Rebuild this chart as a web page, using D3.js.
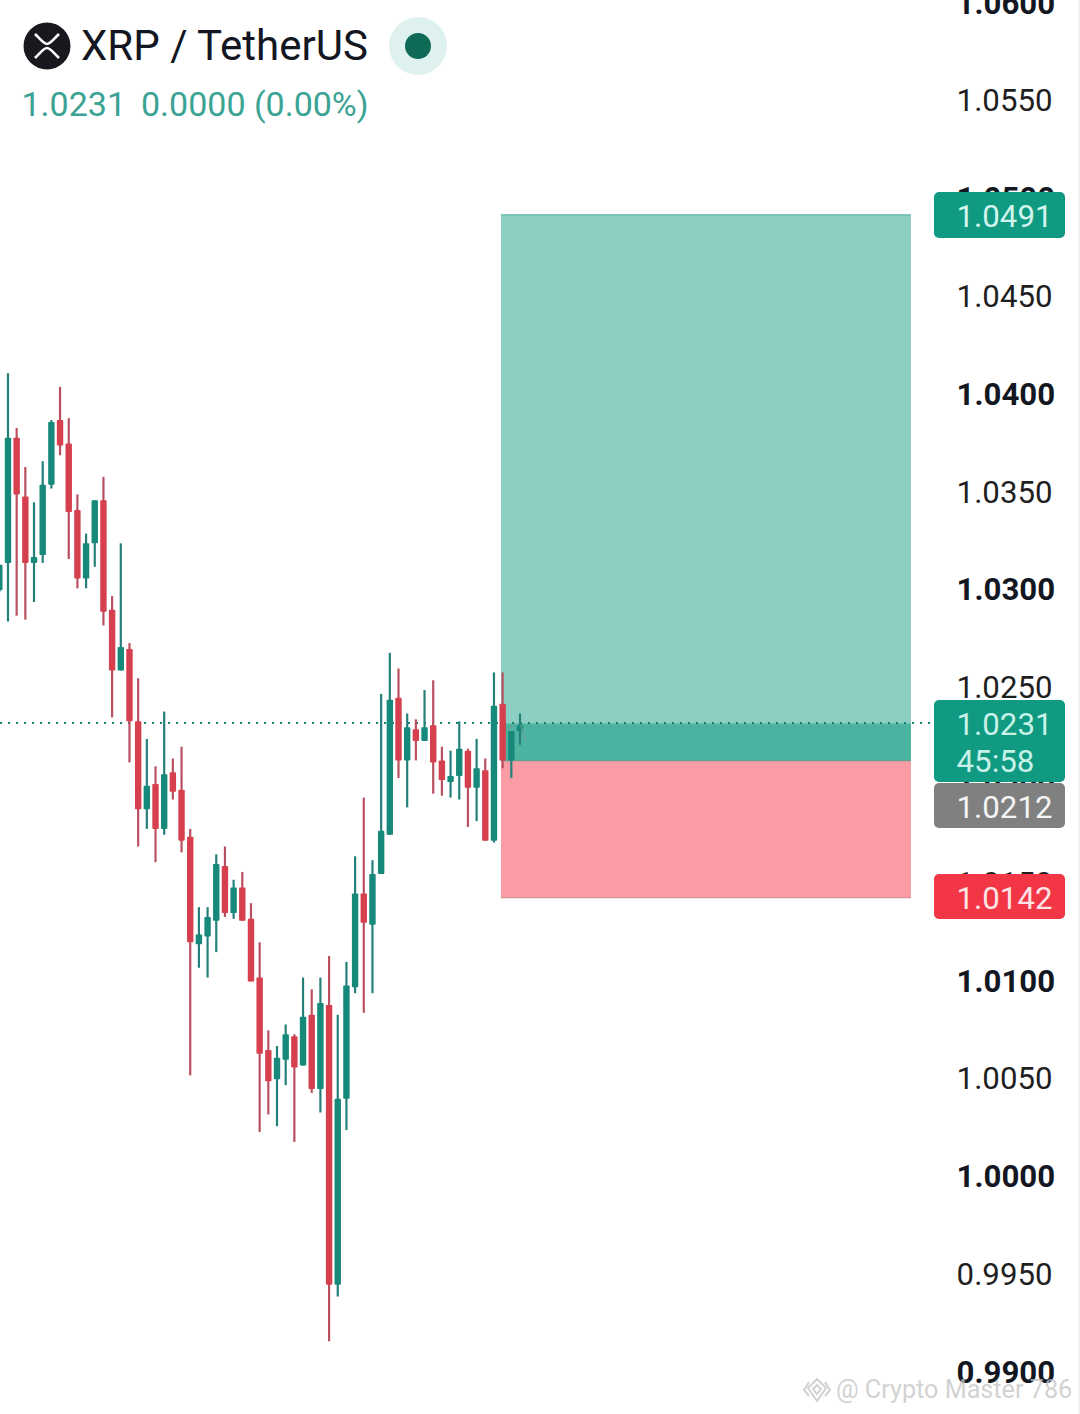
<!DOCTYPE html>
<html>
<head>
<meta charset="utf-8">
<script src="https://cdn.jsdelivr.net/npm/d3@7/dist/d3.min.js"></script>
<style>
  html, body { margin: 0; padding: 0; background: #fff; overflow: hidden; }
  text { font-family: Roboto, sans-serif; }
</style>
</head>
<body>
<div id="master"></div>
<script>
// candles left to right, first one is cut by the left edge
const opens = [1.0300,1.0314,1.0378,1.0348,1.0314,1.0318,1.0354,1.0387,1.0375,1.0341,1.0306,1.0324,1.0346,1.0290,1.0259,1.0270,1.0233,1.0188,1.0201,1.0178,1.0207,1.0198,1.0174,1.0119,1.0123,1.0131,1.0159,1.0135,1.0148,1.0132,1.0102,1.0065,1.0050,1.0060,1.0072,1.0057,1.0083,1.0045,1.0088,0.9945,1.0040,1.0097,1.0145,1.0129,1.0155,1.0175,1.0245,1.0213,1.0229,1.0223,1.0231,1.0213,1.0202,1.0205,1.0218,1.0199,1.0208,1.0172,1.0242,1.0213,1.0228]
const highs = [1.0313,1.0411,1.0383,1.0363,1.0345,1.0366,1.0387,1.0404,1.0388,1.0349,1.0329,1.0346,1.0358,1.0297,1.0324,1.0273,1.0255,1.0224,1.0210,1.0238,1.0214,1.0220,1.0178,1.0138,1.0138,1.0165,1.0169,1.0152,1.0156,1.0140,1.0120,1.0075,1.0067,1.0078,1.0073,1.0102,1.0096,1.0102,1.0113,1.0083,1.0110,1.0164,1.0194,1.0162,1.0247,1.0268,1.0260,1.0237,1.0234,1.0249,1.0254,1.0220,1.0218,1.0233,1.0219,1.0224,1.0214,1.0258,1.0258,1.0228,1.0237]
const lows = [1.0299,1.0284,1.0287,1.0285,1.0294,1.0314,1.0352,1.0369,1.0316,1.0301,1.0301,1.0312,1.0282,1.0235,1.0259,1.0212,1.0169,1.0178,1.0161,1.0175,1.0193,1.0166,1.0052,1.0107,1.0102,1.0115,1.0133,1.0132,1.0131,1.0100,1.0023,1.0032,1.0026,1.0047,1.0018,1.0057,1.0043,1.0033,0.9916,0.9939,1.0024,1.0094,1.0084,1.0094,1.0155,1.0175,1.0204,1.0189,1.0213,1.0223,1.0196,1.0195,1.0194,1.0193,1.0179,1.0182,1.0172,1.0171,1.0209,1.0204,1.0221]
const closes = [1.0313,1.0378,1.0349,1.0314,1.0317,1.0354,1.0386,1.0374,1.0340,1.0306,1.0324,1.0346,1.0289,1.0259,1.0271,1.0233,1.0188,1.0200,1.0178,1.0206,1.0197,1.0172,1.0120,1.0124,1.0133,1.0160,1.0135,1.0148,1.0131,1.0100,1.0063,1.0049,1.0061,1.0073,1.0056,1.0082,1.0045,1.0089,0.9945,1.0040,1.0098,1.0145,1.0130,1.0155,1.0177,1.0244,1.0213,1.0230,1.0223,1.0230,1.0212,1.0203,1.0205,1.0219,1.0199,1.0209,1.0172,1.0241,1.0213,1.0228,1.0231]

const axisTicks = [1.06,1.055,1.05,1.045,1.04,1.035,1.03,1.025,1.02,1.015,1.01,1.005,1,0.995,0.99]
const boldTicks = [1.06,1.05,1.04,1.03,1.02,1.01,1,0.99]

const lastPrice = 1.0231
const targetPrice = 1.0491
const entryPrice = 1.0212
const stopPrice = 1.0142
const countdown = "45:58"
const positionBars = [57.8, 105.05]

const w = 1080
const h = 1414

let svg = d3.select("#master").append("svg").attr("width", w).attr("height", h).style("display", "block")
svg.append("rect").attr("width", w).attr("height", h).attr("fill", "#fff")

let x = d3.scaleLinear().domain([0, 60]).range([-0.7, 520])
let y = d3.scaleLinear().domain([1.06009, 0.9878]).range([0, h])

const green = "#17897a", red = "#d6404e"

// long position box
let boxX = x(positionBars[0]), boxW = x(positionBars[1]) - boxX
let zones = [
  [targetPrice, entryPrice, "#8dd0c3"],
  [lastPrice, entryPrice, "#4cb3a0"],
  [entryPrice, stopPrice, "#f99ca5"]
]
svg.append("g").selectAll("rect").data(zones).enter().append("rect")
  .attr("x", boxX).attr("width", boxW)
  .attr("y", d => y(d[0])).attr("height", d => y(d[1]) - y(d[0]))
  .attr("fill", d => d[2])
let edges = [[targetPrice, "#5fb5a5"], [entryPrice, "#6b9d93"], [stopPrice, "#d98d95"]]
svg.append("g").selectAll("line").data(edges).enter().append("line")
  .attr("x1", boxX).attr("x2", boxX + boxW)
  .attr("y1", d => y(d[0])).attr("y2", d => y(d[0]))
  .attr("stroke", d => d[1]).attr("stroke-width", 1.2)

// last price line
svg.append("line")
  .attr("x1", 0).attr("x2", 934).attr("y1", y(lastPrice) - 0.5).attr("y2", y(lastPrice) - 0.5)
  .attr("stroke", "#1a7f70").attr("stroke-width", 2).attr("stroke-dasharray", "2 6")

// candles, the price values were read about 2px off the box scale
let idx = d3.range(opens.length)
let candles = svg.append("g").attr("transform", "translate(0,1.7)")
  .selectAll("g").data(idx).enter().append("g")
candles.append("line")
  .attr("x1", i => x(i)).attr("x2", i => x(i))
  .attr("y1", i => y(highs[i])).attr("y2", i => y(lows[i]))
  .attr("stroke", i => closes[i] >= opens[i] ? "#26807a" : "#b9505f")
  .attr("stroke-width", 2.2)
candles.append("rect")
  .attr("x", i => x(i) - 3.2).attr("width", 6.4)
  .attr("y", i => y(Math.max(opens[i], closes[i])))
  .attr("height", i => Math.max(2, Math.abs(y(opens[i]) - y(closes[i]))))
  .attr("rx", 0.8)
  .attr("fill", i => closes[i] >= opens[i] ? green : red)

// little wick-like marks beside the last candle
let sideMarks = [[[58.55, 1.0228], [59.7, 1.0231]], [[60.1, 1.0230], [60.7, 1.0222]]]
svg.append("g").selectAll("line").data(sideMarks).enter().append("line")
  .attr("x1", d => x(d[0][0])).attr("y1", d => y(d[0][1]))
  .attr("x2", d => x(d[1][0])).attr("y2", d => y(d[1][1]))
  .attr("stroke", "#6f9f97").attr("stroke-width", 1.2)

// price axis
let axis = d3.axisRight(y).tickValues(axisTicks).tickSize(0).tickPadding(0).tickFormat(d3.format(".4f"))
let axisG = svg.append("g").attr("transform", "translate(956.6,1.3)").call(axis)
axisG.select(".domain").remove()
axisG.selectAll("text")
  .attr("font-size", 31.2)
  .attr("font-family", "Roboto, sans-serif")
  .attr("font-weight", d => boldTicks.includes(d) ? 700 : 400)
  .attr("fill", d => boldTicks.includes(d) ? "#131722" : "#1f1f1f")

// price labels on the axis
let labels = [
  [192, 46, "#0f9a81", [[targetPrice.toFixed(4), 0]], "#d3f5ee"],
  [700, 82, "#0f9a81", [[lastPrice.toFixed(4), 0], [countdown, 37]], "#c8f2e8"],
  [783, 45, "#808080", [[entryPrice.toFixed(4), 0]], "#f4f4f4"],
  [874, 45, "#f23645", [[stopPrice.toFixed(4), 0]], "#fde4e6"]
]
let lab = svg.append("g").selectAll("g").data(labels).enter().append("g")
lab.append("rect")
  .attr("x", 934).attr("width", 131)
  .attr("y", d => d[0]).attr("height", d => d[1])
  .attr("rx", 5).attr("fill", d => d[2])
lab.each(function(d) {
  d3.select(this).selectAll("text").data(d[3]).enter().append("text")
    .attr("x", 956.6).attr("y", t => d[0] + 35 + t[1])
    .attr("font-size", 31.2).attr("fill", d[4]).text(t => t[0])
})

// header
svg.append("circle").attr("cx", 47).attr("cy", 46).attr("r", 23.5).attr("fill", "#17191e")
svg.append("path")
  .attr("d", "M35 34 C42 41 44 44 47 44 C50 44 52 41 59 34 M35 58 C42 51 44 48 47 48 C50 48 52 51 59 58")
  .attr("fill", "none").attr("stroke", "#fff").attr("stroke-width", 2.6)
svg.append("text").attr("x", 81).attr("y", 60).attr("font-size", 42).attr("fill", "#131722").text("XRP / TetherUS")
svg.append("text").attr("x", 21.5).attr("y", 116).attr("font-size", 34).attr("fill", "#3aa394").text(lastPrice.toFixed(4))
svg.append("text").attr("x", 141).attr("y", 116).attr("font-size", 34).attr("fill", "#3aa394").text("0.0000 (0.00%)")
svg.append("circle").attr("cx", 418).attr("cy", 46).attr("r", 29).attr("fill", "#dff1ee")
svg.append("circle").attr("cx", 418).attr("cy", 46).attr("r", 13).attr("fill", "#0f6b58")

// watermark
let wm = svg.append("g").attr("opacity", 0.75)
wm.append("path")
  .attr("d", "M817 1379 L826 1388 L817 1401 L808 1388 Z M817 1385 L821 1389 L817 1394 L813 1389 Z M809 1382 L804 1390 L809 1396 M825 1382 L830 1390 L825 1396")
  .attr("fill", "none").attr("stroke", "#c4c4c4").attr("stroke-width", 2)
wm.append("text").attr("x", 836).attr("y", 1398).attr("font-size", 25.2)
  .attr("font-family", "'Open Sans', sans-serif").attr("fill", "#c4c4c4").text("@ Crypto Master 786")

// screenshot edge on the right
svg.append("rect").attr("x", 1078).attr("y", 0).attr("width", 2).attr("height", h).attr("fill", "#f1f1f1")
</script>
</body>
</html>
